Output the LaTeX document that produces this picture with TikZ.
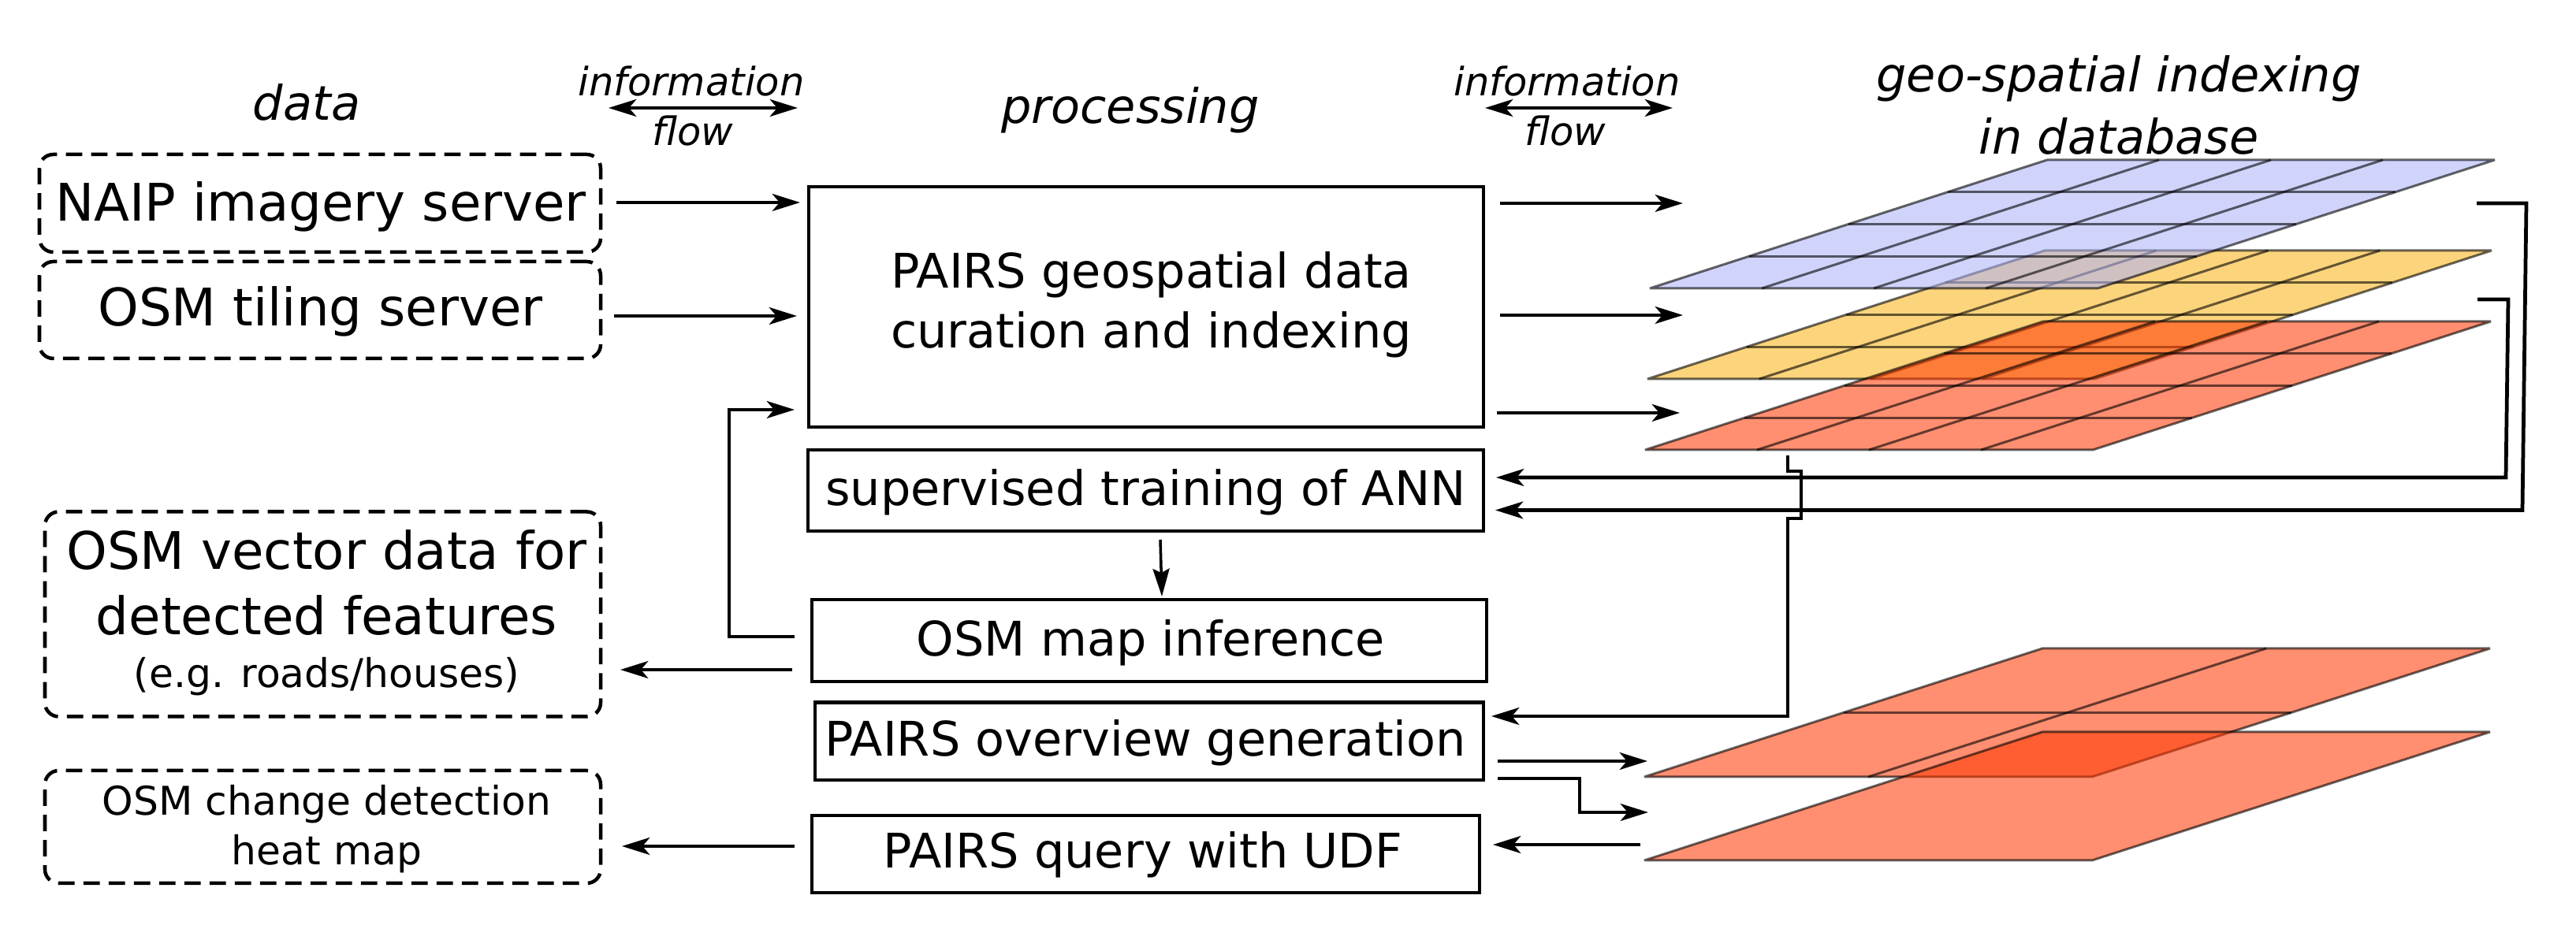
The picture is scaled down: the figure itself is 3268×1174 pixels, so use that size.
\documentclass[tikz,border=0pt]{standalone}
\usepackage{fontspec}
\setmainfont{DejaVu Sans}
\usetikzlibrary{arrows.meta}
% 1 unit = 1 reference pixel
\newlength\pxu
\setlength\pxu{0.01cm}
% text set at an offset from node centre: dx, first baseline dy, lines
\newcommand{\txt}[3]{\kern#1\pxu\kern#1\pxu\raisebox{-#2\pxu}[0pt][0pt]{\begin{tabular}[t]{@{}c@{}}#3\end{tabular}}}
% fill colour, bottom-left x, y, width, top shift, height, inner column and row steps as fractions
\newcommand{\plane}[8]{
  \fill[#1, fill opacity=.57] (#2,#3) -- ({#2+#4},#3) -- ({#2+#4+#5},{#3-#6}) -- ({#2+#5},{#3-#6}) -- cycle;
  \foreach \i in {#7}
    \draw[gridln] ({#2+\i*#4},#3) -- ({#2+#5+\i*#4},{#3-#6});
  \foreach \j in {#8}
    \draw[gridln] ({#2+\j*#5},{#3-\j*#6}) -- ({#2+#4+\j*#5},{#3-\j*#6});
  \draw[gridln, line join=bevel] (#2,#3) -- ({#2+#4},#3) -- ({#2+#4+#5},{#3-#6}) -- ({#2+#5},{#3-#6}) -- cycle;
}
\definecolor{planeblue}{RGB}{173,179,248}
\definecolor{planegold}{RGB}{250,179,25}
\definecolor{planered}{RGB}{255,58,4}
\begin{document}
\begin{tikzpicture}[x=0.01cm,y=-0.01cm,
  box/.style={draw, line width=1.28pt, inner sep=0pt, font=\fontsize{17.2}{22.5}\selectfont},
  data/.style={box, dash pattern=on 5.9pt off 3.2pt, rounded corners=5pt, font=\fontsize{18.7}{23.6}\selectfont},
  small/.style={data, font=\fontsize{14.3}{17.9}\selectfont},
  head/.style={inner sep=0pt, font=\fontsize{17.2}{22.2}\selectfont\itshape},
  flowlab/.style={anchor=base, inner sep=0pt, font=\fontsize{14.1}{17}\selectfont\itshape},
  arr/.style={line width=1.35pt, -{Stealth[length=10pt,width=6.2pt,inset=2.6pt]}},
  arrboth/.style={line width=1.35pt, {Stealth[length=10pt,width=6.2pt,inset=2.6pt]}-{Stealth[length=10pt,width=6.2pt,inset=2.6pt]}},
  thinarr/.style={line width=1pt, -{Stealth[length=10pt,width=6pt,inset=1.5pt]}},
  gridln/.style={black, line width=.85pt, opacity=.6}
]
\useasboundingbox (0,0) rectangle (3268,1174);

% column titles
\node[head] (tdata) at (389,153) {\txt{0}{0}{data}};
\node[head] (tproc) at (1434,157) {\txt{0}{0}{processing}};
\node[head] (tgeo) at (2688,117) {\txt{0}{0}{geo-spatial indexing\\in database}};

% information flow legends
\node[flowlab] (info1) at (877,122) {information};
\node[flowlab] (flow1) at (879,184.5) {flow};
\node[flowlab] (info2) at (1988,122) {information};
\node[flowlab] (flow2) at (1986,184.5) {flow};
\coordinate (l1a) at (772,137);
\coordinate (l1b) at (1012,137);
\coordinate (l2a) at (1884,137);
\coordinate (l2b) at (2122,137);
\draw[arrboth] (l1a) -- (l1b);
\draw[arrboth] (l2a) -- (l2b);

% data boxes
\node[data, minimum width=712\pxu, minimum height=124\pxu] (naip) at (406,258) {\txt{1}{22.5}{NAIP imagery server}};
\node[data, minimum width=712\pxu, minimum height=123\pxu] (osm) at (406,393.5) {\txt{0.5}{20.5}{OSM tiling server}};
\node[data, minimum width=705\pxu, minimum height=260\pxu] (vector) at (409.5,779.5) {\txt{5}{-56.5}{OSM vector data for\\detected features\\[-4.6pt]{\fontsize{14.3}{17}\selectfont (e.g. roads/houses)}}};
\node[small, minimum width=705\pxu, minimum height=143\pxu] (heat) at (409.5,1049.5) {\txt{5}{-14.5}{OSM change detection\\heat map}};

% processing boxes
\node[box, minimum width=856\pxu, minimum height=305\pxu] (main) at (1454,389.5) {\txt{6.5}{-24}{PAIRS geospatial data\\[-0.9pt]curation and indexing}};
\node[box, minimum width=857\pxu, minimum height=103\pxu] (sup) at (1453.5,622.5) {\txt{0}{19}{supervised training of ANN}};
\node[box, minimum width=856\pxu, minimum height=104\pxu] (map) at (1458,813) {\txt{2}{20}{OSM map inference}};
\node[box, minimum width=848\pxu, minimum height=98.5\pxu] (over) at (1458,941) {\txt{-5}{19}{PAIRS overview generation}};
\node[box, minimum width=847\pxu, minimum height=98\pxu] (query) at (1453.5,1084) {\txt{-3.5}{18}{PAIRS query with UDF}};

% indexed layers
\plane{planegold}{2090}{481}{567}{504}{163}{.25,.5,.75}{.25,.5,.75}
\plane{planered}{2087}{571}{568}{505}{163}{.25,.5,.75}{.25,.5,.75}
\plane{planeblue}{2093}{366}{568}{504}{163}{.25,.5,.75}{.25,.5,.75}
\plane{planered}{2086}{986}{568}{505}{163}{.5}{.5}
\plane{planered}{2086}{1092}{568}{505}{163}{}{}

% arrow ends next to boxes and layers
\coordinate (naipout) at (782,257);
\coordinate (mainin1) at (1015,257);
\coordinate (osmout) at (779,401);
\coordinate (mainin2) at (1011,401);
\coordinate (mapback) at (1008,808);
\coordinate (mainin3) at (1008,520);
\coordinate (mapout) at (1005,850);
\coordinate (vecin) at (787,850);
\coordinate (qout) at (1008,1074);
\coordinate (heatin) at (789,1074);
\coordinate (mo1) at (1903,258);
\coordinate (lay1) at (2135,258);
\coordinate (mo2) at (1903,400);
\coordinate (lay2) at (2135,400);
\coordinate (mo3) at (1899,524);
\coordinate (lay3) at (2131,524);
\coordinate (blueout) at (3142,258);
\coordinate (supin1) at (1897,647.5);
\coordinate (goldout) at (3143,380);
\coordinate (supin2) at (1898,606);
\coordinate (redout) at (2268,578);
\coordinate (overin) at (1892,909);
\coordinate (oo1) at (1900,966);
\coordinate (ovl1) at (2090,966);
\coordinate (oo2) at (1900,988);
\coordinate (ovl2) at (2091,1031);
\coordinate (ovl3) at (2081,1072);
\coordinate (qin) at (1894,1072);
\coordinate (supout) at (1472,685);
\coordinate (mapin) at (1474,757);

% data to processing
\draw[arr] (naipout) -- (mainin1);
\draw[arr] (osmout) -- (mainin2);
\draw[arr] (mapback) -| (925,520) -- (mainin3);
\draw[arr] (mapout) -- (vecin);
\draw[arr] (qout) -- (heatin);
\draw[thinarr] (supout) -- (mapin);

% processing to layers and back
\draw[arr] (mo1) -- (lay1);
\draw[arr] (mo2) -- (lay2);
\draw[arr] (mo3) -- (lay3);
\draw[arr] (blueout) -- (3205,258) -- (3200,647.5) -- (supin1);
\draw[arr] (goldout) -- (3182,380) -- (3179,606) -- (supin2);
\draw[arr] (redout) -- (2268,598) -- (2285,598) -- (2285,658) -- (2268,658) -- (2268,909) -- (overin);
\draw[arr] (oo1) -- (ovl1);
\draw[arr] (oo2) -- (2004,988) -- (2004,1031) -- (ovl2);
\draw[arr] (ovl3) -- (qin);
\end{tikzpicture}
\end{document}
